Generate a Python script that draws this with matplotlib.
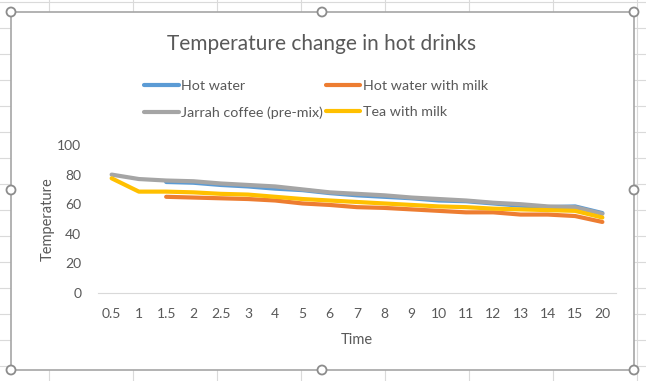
import numpy as np
import matplotlib.pyplot as plt
from matplotlib.patches import Rectangle, Circle

# ── data ────────────────────────────────────────────────
times = ["0.5", "1", "1.5", "2", "2.5", "3", "4", "5", "6", "7",
         "8", "9", "10", "11", "12", "13", "14", "15", "20"]

hot_water = [np.nan, np.nan, 75, 74.5, 73, 72, 70.5, 69.5, 67.5, 66,
             65, 64, 62.5, 62, 60.5, 59, 58, 58.5, 54]
hot_water_milk = [np.nan, np.nan, 65, 64.5, 64, 63.5, 62.5, 60.5, 59.5, 58,
                  57.5, 56.5, 55.5, 54.5, 54.5, 53, 53, 52, 48]
jarrah_coffee = [80, 77, 76, 75.5, 74, 73, 72, 70, 68, 67,
                 66, 64.5, 63.5, 62.5, 61, 60, 58.5, 58, 53.5]
tea_milk = [77.5, 68.5, 68.5, 68, 67, 66.5, 65, 63.5, 62.5, 61.5,
            60.5, 59.5, 58.5, 58, 57, 56.5, 56, 55.5, 51]

series = [
    ("Hot water", hot_water, "#5B9BD5"),
    ("Hot water with milk", hot_water_milk, "#ED7D31"),
    ("Jarrah coffee (pre-mix)", jarrah_coffee, "#A5A5A5"),
    ("Tea with milk", tea_milk, "#FFC000"),
]

TXT = "#595959"
plt.rcParams["font.family"] = ["Lato", "DejaVu Sans"]

W, H = 646, 381
fig = plt.figure(figsize=(W / 100, H / 100), dpi=100)

# ── spreadsheet grid behind the chart ───────────────────
bg = fig.add_axes([0, 0, 1, 1])
bg.set_xlim(0, W)
bg.set_ylim(H, 0)
bg.axis("off")
for y in np.arange(2, H, 26):
    bg.plot([0, W], [y, y], color="#dadada", lw=0.8, zorder=0)
for x in np.arange(49, W, 84):
    bg.plot([x, x], [0, H], color="#dadada", lw=0.8, zorder=0)
bg.add_patch(Rectangle((11, 12), 623, 358, facecolor="white",
                       edgecolor="#a6a6a6", lw=1.2, zorder=1))
for cx, cy in [(11, 12), (322, 12), (634, 12), (11, 190), (634, 190),
               (11, 370), (322, 370), (634, 370)]:
    bg.add_patch(Circle((cx, cy), 4.5, facecolor="white",
                        edgecolor="#8c8c8c", lw=1.3, zorder=2))

# ── chart ───────────────────────────────────────────────
ax = fig.add_axes([98 / W, 1 - 293 / H, (616 - 98) / W, (293 - 145) / H])
ax.patch.set_alpha(0)
x = np.arange(len(times))
handles = []
for name, vals, col in series:
    ln, = ax.plot(x, vals, color=col, lw=3, solid_capstyle="round",
                  solid_joinstyle="round", label=name)
    handles.append(ln)

ax.set_xlim(-0.5, len(times) - 0.5)
ax.set_ylim(0, 100)
ax.set_yticks(range(0, 101, 20))
ax.set_xticks(x)
ax.set_xticklabels(times)
ax.tick_params(length=0, labelsize=10, colors=TXT)
ax.tick_params(axis="x", pad=11)
ax.tick_params(axis="y", pad=12)
for s in ["top", "right", "left"]:
    ax.spines[s].set_visible(False)
ax.spines["bottom"].set_color("#d9d9d9")
ax.set_xlabel("Time", fontsize=10.5, color=TXT, labelpad=9)
ax.set_ylabel("Temperature", fontsize=10.5, color=TXT, labelpad=2)

fig.text(322 / W, 1 - 44 / H, "Temperature change in hot drinks",
         ha="center", va="center", fontsize=15, color=TXT)

order = [handles[0], handles[2], handles[1], handles[3]]
fig.legend(order, [h.get_label() for h in order], ncol=2,
           loc="center", bbox_to_anchor=(316 / W, 1 - 99.5 / H),
           frameon=False, fontsize=10.3, labelcolor=TXT,
           handlelength=2.4, handletextpad=0.15, columnspacing=0.25,
           labelspacing=1.0)

fig.savefig("out.png", dpi=100)
